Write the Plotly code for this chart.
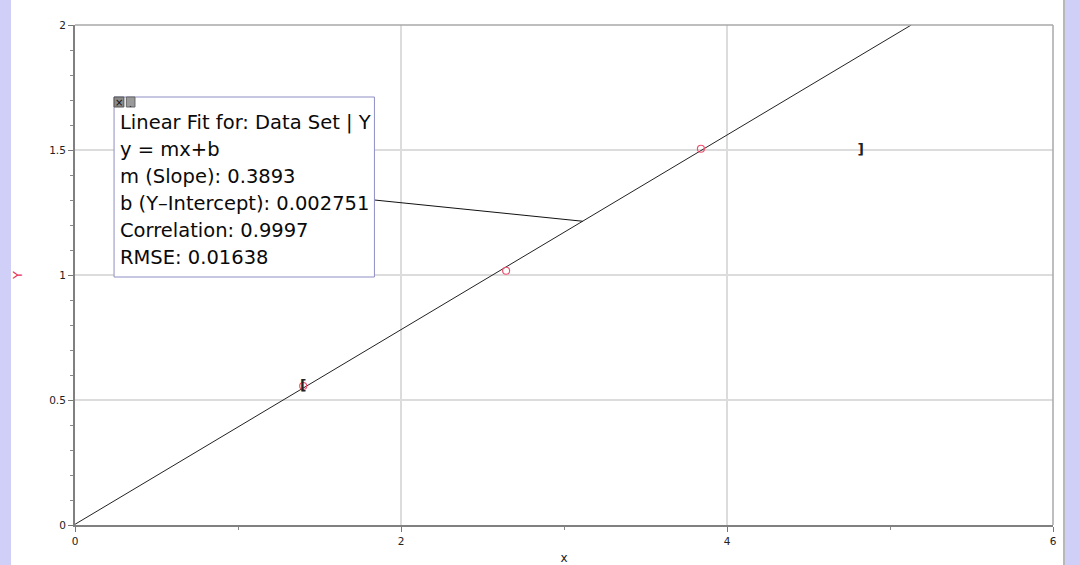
import plotly.graph_objects as go

# Data
x_data = [1.40, 2.645, 3.84]
y_data = [0.556, 1.017, 1.505]
slope = 0.3893
intercept = 0.002751
fit_x = [0.0, (2.0 - intercept) / slope]
fit_y = [intercept + slope * v for v in fit_x]
bracket_left = (1.40, 0.555)
bracket_right = (4.82, 1.50)
fit_lines = ["Linear Fit for: Data Set | Y", "y = mx+b", "m (Slope): 0.3893",
             "b (Y\u2013Intercept): 0.002751", "Correlation: 0.9997", "RMSE: 0.01638"]
x_ticks = [0, 2, 4, 6]
y_ticks = [0, 0.5, 1, 1.5, 2]

FONT = "DejaVu Sans"
fig = go.Figure()

fig.add_trace(go.Scatter(x=fit_x, y=fit_y, mode="lines",
                         line=dict(color="#222222", width=1), hoverinfo="skip"))
fig.add_trace(go.Scatter(x=x_data, y=y_data, mode="markers",
                         marker=dict(symbol="circle-open", size=7, color="#f0506e",
                                     line=dict(width=1.2))))
fig.add_trace(go.Scatter(x=[bracket_left[0], bracket_right[0]], y=[bracket_left[1], bracket_right[1]],
                         mode="text", text=["<b>[</b>", "<b>]</b>"],
                         textfont=dict(family=FONT, size=14, color="#222222"),
                         textposition="middle center", hoverinfo="skip"))

shapes = []
# box
bx0, bx1, by0, by1 = 0.2396, 1.837, 0.992, 1.712
conn_x = 3.114
shapes.append(dict(type="line", xref="x", yref="y", x0=bx1, y0=1.30, x1=conn_x,
                   y1=intercept + slope * conn_x, line=dict(color="#111111", width=1)))
shapes.append(dict(type="rect", xref="x", yref="y", x0=bx0, x1=bx1, y0=by0, y1=by1,
                   fillcolor="white", line=dict(color="#8e8ec4", width=1), layer="above"))
# icons
shapes.append(dict(type="rect", xref="x", yref="y", x0=0.2396, x1=0.300, y0=1.672, y1=1.712,
                   fillcolor="#8a8a8a", line=dict(color="#555555", width=1), layer="above"))
shapes.append(dict(type="rect", xref="x", yref="y", x0=0.315, x1=0.368, y0=1.672, y1=1.712,
                   fillcolor="#9a9a9a", line=dict(color="#666666", width=1), layer="above"))
# top/right frame
shapes.append(dict(type="line", xref="paper", yref="paper", x0=0, x1=1, y0=1, y1=1,
                   line=dict(color="#a8a8a8", width=1.5)))
shapes.append(dict(type="line", xref="paper", yref="paper", x0=1, x1=1, y0=0, y1=1,
                   line=dict(color="#a8a8a8", width=1.5)))
# side strips
shapes.append(dict(type="rect", xref="paper", yref="paper", x0=-75/978, x1=-64/978, y0=-40/500, y1=525/500,
                   fillcolor="#cfcff7", line=dict(width=0), layer="below"))
shapes.append(dict(type="rect", xref="paper", yref="paper", x0=1 + 10/978, x1=1 + 12/978, y0=-40/500, y1=525/500,
                   fillcolor="#b8b8b8", line=dict(width=0), layer="below"))
shapes.append(dict(type="rect", xref="paper", yref="paper", x0=1 + 12/978, x1=1 + 27/978, y0=-40/500, y1=525/500,
                   fillcolor="#cfcff7", line=dict(width=0), layer="below"))

annotations = []
line_y = [1.612, 1.504, 1.394, 1.286, 1.178, 1.070]
for txt, yy in zip(fit_lines, line_y):
    annotations.append(dict(x=0.262, y=yy, xref="x", yref="y", text=txt, showarrow=False,
                            xanchor="left", yanchor="middle",
                            font=dict(family=FONT, size=19.5, color="#0a0a0a")))
annotations.append(dict(x=0.27, y=1.692, xref="x", yref="y", text="\u00d7", showarrow=False,
                        font=dict(family=FONT, size=10, color="#111111")))
annotations.append(dict(x=0.3415, y=1.685, xref="x", yref="y", text=".", showarrow=False,
                        font=dict(family=FONT, size=9, color="#111111")))

fig.update_layout(
    width=1080, height=565,
    margin=dict(l=75, r=27, t=25, b=40, autoexpand=False),
    paper_bgcolor="white", plot_bgcolor="white",
    showlegend=False,
    shapes=shapes, annotations=annotations,
    font=dict(family=FONT, size=10, color="#222222"),
)
fig.update_xaxes(range=[0, 6], tickvals=x_ticks, ticktext=[str(v) for v in x_ticks],
                 ticks="outside", ticklen=5, tickcolor="#777777", automargin=False,
                 showgrid=True, gridcolor="#dcdcdc", gridwidth=1.5,
                 showline=True, linecolor="#808080", linewidth=2,
                 zeroline=False, tickfont=dict(size=10.5),
                 minor=dict(dtick=1, ticks="outside", ticklen=3, tickcolor="#888888", showgrid=False),
                 title=dict(text="x", font=dict(size=12, color="#222222"), standoff=8))
fig.update_yaxes(range=[0, 2], tickvals=y_ticks, ticktext=["0", "0.5", "1", "1.5", "2"],
                 ticks="outside", ticklen=5, tickcolor="#777777", automargin=False,
                 showgrid=True, gridcolor="#dcdcdc", gridwidth=1.5,
                 showline=True, linecolor="#808080", linewidth=2,
                 zeroline=False, tickfont=dict(size=10.5),
                 minor=dict(dtick=0.1, ticks="outside", ticklen=3, tickcolor="#888888", showgrid=False),
                 title=dict(text="Y", font=dict(size=13, color="#e8305a"), standoff=24))

fig.write_html("out.html", config={"displayModeBar": False},
               post_script="document.body.style.margin='0';document.body.style.overflow='hidden';")
